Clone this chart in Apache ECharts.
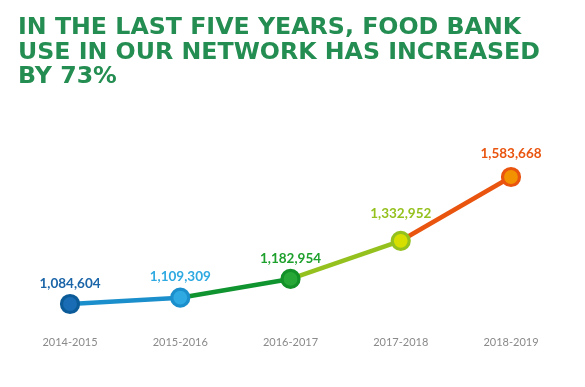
<!DOCTYPE html>
<html><head><meta charset="utf-8">
<script src="https://cdn.jsdelivr.net/npm/echarts@6/dist/echarts.min.js"></script>
<style>html,body{margin:0;padding:0;background:#fff}#c{width:585px;height:387px}</style>
</head><body><div id="c"></div>
<script>
var categories = ['2014-2015','2015-2016','2016-2017','2017-2018','2018-2019'];
var values = [1084604, 1109309, 1182954, 1332952, 1583668];
var labelTexts = ['1,084,604','1,109,309','1,182,954','1,332,952','1,583,668'];
var segmentColors = ['#1b8fcb','#0f9430','#95c11f','#e9540e'];
var markerBorder = ['#0b5b98','#1b8fcb','#139027','#95c11f','#e9540e'];
var markerFill = ['#1a6db4','#2fa9e1','#27a836','#d7df01','#f39200'];
var labelColors = ['#1a64a8','#2fa9e1','#1ea02d','#95c11f','#e9540e'];
var labelGap = [3, 4, 3, 10, 6];

var chart = echarts.init(document.getElementById('c'), null, {renderer:'canvas'});
var series = [];
for (var i = 0; i < values.length - 1; i++) {
  var d = values.map(function(){ return null; });
  d[i] = values[i]; d[i+1] = values[i+1];
  series.push({
    type:'line', data:d, symbol:'none', z:2, silent:true,
    lineStyle:{color:segmentColors[i], width:4.5}
  });
}
series.push({
  type:'scatter', z:5, symbolSize:17,
  data: values.map(function(v,i){
    return {value:v, itemStyle:{color:markerFill[i], borderColor:markerBorder[i], borderWidth:3.2, opacity:1},
      label:{show:true, position:'top', distance:labelGap[i], formatter:labelTexts[i],
        color:labelColors[i], fontWeight:'bold', fontSize:13.5, fontFamily:'Lato'}};
  })
});

chart.setOption({
  animation:false,
  title:{
    text:'IN THE LAST FIVE YEARS, FOOD BANK\nUSE IN OUR NETWORK HAS INCREASED\nBY 73%',
    left:13, top:11,
    textStyle:{color:'#248d51', fontSize:23.7, fontWeight:'bold', fontFamily:'DejaVu Sans', lineHeight:24.5}
  },
  grid:{left:14.9, right:18.9, top:172.84, bottom:61.47, containLabel:false},
  xAxis:{type:'category', data:categories, boundaryGap:true,
    axisLine:{show:false}, axisTick:{show:false}, splitLine:{show:false},
    axisLabel:{color:'#8a8a8a', fontSize:11, margin:11, fontFamily:'Lato'}},
  yAxis:{type:'value', min:1000000, max:1600000, show:false},
  series:series
});
</script></body></html>
